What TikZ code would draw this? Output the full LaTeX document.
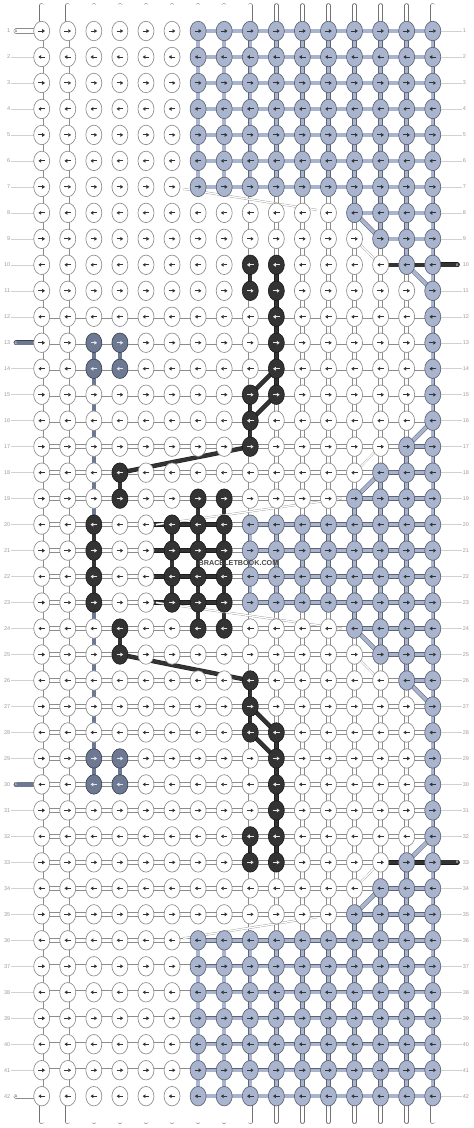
\documentclass[tikz,border=0pt]{standalone}
\usepackage{fontspec}
\setmainfont{Liberation Sans}
\usetikzlibrary{shapes.geometric,arrows.meta,calc}

\definecolor{wt}{HTML}{FFFFFF}
\definecolor{bl}{HTML}{A9B4CF}
\definecolor{dk}{HTML}{333333}
\definecolor{gy}{HTML}{6D7892}
\definecolor{lt}{HTML}{E6E6E6}
\definecolor{lbl}{HTML}{9C9C9C}

% colour of knot (row,col) -> \kc
\newcommand\getcol[2]{%
  \ifcsname cell@#1@#2\endcsname
    \edef\kc{\csname cell@#1@#2\endcsname}%
  \else
    \ifnum#2<\csname bs@#1\endcsname\relax\def\kc{wt}\else\def\kc{bl}\fi
  \fi}
\def\wtname{wt}
\def\blname{bl}

\tikzset{every picture/.style={line width=0.75pt}}
\tikzset{
  knot/.style={ellipse, fill=#1, draw=#1!55!black, line width=0.65pt,
    minimum width=16pt, minimum height=19.5pt, inner sep=0pt},
  link/.style={draw=#1!55!black, line width=0.5pt, double=#1, double distance=3.4pt},
  bar/.style={draw=#1!55!black, line width=0.5pt, double=#1, double distance=4.2pt, line cap=round},
  band/.style={draw=black!45, line width=0.3pt, double=white, double distance=1.4pt},
  stub/.style={draw=black!55, line width=0.5pt, double=white, double distance=3.6pt, line cap=round},
  guide/.style={draw=black!18, line width=0.5pt},
  rowno/.style={font=\fontsize{5.5}{6}\selectfont, text=lbl, inner sep=0.5pt},
  tag/.style={font=\fontsize{3.6}{4}\selectfont, inner sep=0pt, text=#1},
  arr/.style={-{Triangle[length=2.8pt,width=3.6pt]}, line width=0.95pt, draw=#1},
}

\begin{document}
\begin{tikzpicture}[x=1pt,y=1pt,yscale=-1]
\useasboundingbox (0,0) rectangle (474,1128);

% pattern data: first blue column of each row, dark and grey knots
\foreach \rr/\bb in {1/7,2/7,3/7,4/7,5/7,6/7,7/7,8/13,9/14,10/15,11/16,12/16,13/16,14/16,
  15/16,16/16,17/15,18/14,19/13,20/9,21/9,22/9,23/9,24/13,25/14,26/15,27/16,28/16,29/16,
  30/16,31/16,32/16,33/15,34/14,35/13,36/7,37/7,38/7,39/7,40/7,41/7,42/7}
  {\expandafter\xdef\csname bs@\rr\endcsname{\bb}}
\foreach \rr/\cc in {10/9,10/10,11/9,11/10,12/10,13/10,14/10,15/9,15/10,16/9,17/9,18/4,
  19/4,19/7,19/8,20/3,20/6,20/7,20/8,21/3,21/6,21/7,21/8,22/3,22/6,22/7,22/8,23/3,23/6,
  23/7,23/8,24/4,24/7,24/8,25/4,26/9,27/9,28/9,28/10,29/10,30/10,31/10,32/9,32/10,33/9,33/10}
  {\expandafter\gdef\csname cell@\rr@\cc\endcsname{dk}}
\foreach \rr/\cc in {13/3,13/4,14/3,14/4,29/3,29/4,30/3,30/4}
  {\expandafter\gdef\csname cell@\rr@\cc\endcsname{gy}}

% grid points
\foreach \rr in {1,...,42}
  \foreach \cc in {1,...,16}
    \coordinate (p\rr-\cc) at ({41.7+26.07*(\cc-1)},{31+25.98*(\rr-1)});

% row numbers
\foreach \rr in {1,...,42}{
  \node[rowno, anchor=east] (L\rr) at (11,{31+25.98*(\rr-1)}) {\rr};
  \node[rowno, anchor=west] (R\rr) at (462,{31+25.98*(\rr-1)}) {\rr};
  \ifnum\rr=1 \else\ifnum\rr=13 \else\ifnum\rr=30 \else\ifnum\rr=42 \else
    \draw[guide] (L\rr.east) -- (p\rr-1);
  \fi\fi\fi\fi
  \ifnum\rr=10 \else\ifnum\rr=33 \else
    \draw[guide] (p\rr-16) -- (R\rr.west);
  \fi\fi
}

% string ends
\foreach \cc in {1,...,16}{
  \draw[stub] ($(p1-\cc)+(0,-25.5)$) -- (p1-\cc);
  \draw[stub] (p42-\cc) -- ($(p42-\cc)+(0,25.5)$);
}
\coordinate (a1) at ($(p1-1)+(-25.5,0)$);
\coordinate (a42) at ($(p42-1)+(-25.5,0)$);
\coordinate (c13) at ($(p13-1)+(-25.5,0)$);
\coordinate (c30) at ($(p30-1)+(-25.5,0)$);
\coordinate (b10) at ($(p10-16)+(24.5,0)$);
\coordinate (b33) at ($(p33-16)+(24.5,0)$);
\draw[bar=wt] (a1) -- (p1-1);
\draw[bar=wt] (a42) -- (p42-1);
\draw[bar=gy] (c13) -- (p13-1);
\draw[bar=gy] (c30) -- (p30-1);
\draw[bar=dk] (p10-16) -- (b10);
\draw[bar=dk] (p33-16) -- (b33);

% horizontal links
\foreach \rr in {1,...,42}{
  \foreach \cc [evaluate=\cc as \nn using int(\cc+1)] in {1,...,15}{
    \getcol{\rr}{\cc}\let\ka\kc
    \getcol{\rr}{\nn}\let\kb\kc
    \def\lc{wt}%
    \ifx\ka\kb\ifx\ka\blname\def\lc{bl}\fi\fi
    \ifnum\rr>19 \ifnum\rr<24 \ifnum\cc>4 \ifnum\cc<8 \def\lc{dk}\fi\fi\fi\fi
    \ifnum\rr=10 \ifnum\cc>13 \def\lc{dk}\fi\fi
    \ifnum\rr=33 \ifnum\cc>13 \def\lc{dk}\fi\fi
    \draw[link=\lc] (p\rr-\cc) -- (p\rr-\nn);
  }}

% vertical links
\foreach \rr [evaluate=\rr as \nn using int(\rr+1)] in {1,...,41}{
  \foreach \cc in {1,...,16}{
    \getcol{\rr}{\cc}\let\ka\kc
    \getcol{\nn}{\cc}\let\kb\kc
    \def\lc{wt}%
    \ifx\ka\kb\let\lc\ka\fi
    \ifnum\cc=3 \ifnum\rr>12 \ifnum\rr<30 \ifx\lc\wtname\def\lc{gy}\fi\fi\fi\fi
    \draw[link=\lc] (p\rr-\cc) -- (p\nn-\cc);
  }}

% slanted links
\foreach \a/\b in {8-13/9-14,10-15/11-16,16-16/17-15,18-14/19-13,
  24-13/25-14,26-15/27-16,32-16/33-15,34-14/35-13}
  \draw[link=bl] (p\a) -- (p\b);
\foreach \a/\b in {14-10/15-9,15-10/16-9,27-9/28-10,28-9/29-10,17-9/18-4,25-4/26-9}
  \draw[link=dk] (p\a) -- (p\b);

% strings passing behind
\draw[band] ($(p7-6)+(11,2)$) -- ($(p8-12)+(-12,-3)$);
\draw[band] ($(p36-6)+(11,-2)$) -- ($(p35-12)+(-12,3)$);
\draw[band] ($(p9-13)+(4,4)$) -- ($(p10-14)+(-5.5,-5)$);
\draw[band] ($(p25-13)+(4,4)$) -- ($(p26-14)+(-5.5,-5)$);
\draw[band] ($(p17-14)+(-5.5,5)$) -- ($(p18-13)+(4,-4)$);
\draw[band] ($(p33-14)+(-5.5,5)$) -- ($(p34-13)+(4,-4)$);
\draw[band] ($(p20-5)+(10,0)$) -- ($(p19-12)+(13,0)$);
\draw[band] ($(p23-5)+(10,0)$) -- ($(p24-12)+(13,0)$);

% knots
\foreach \rr in {1,...,42}
  \foreach \cc in {1,...,16}{
    \getcol{\rr}{\cc}
    \node[knot=\kc] (k\rr-\cc) at (p\rr-\cc) {};
  }

% knot arrows
\foreach \rr in {1,...,42}
  \foreach \cc in {1,...,16}{
    \getcol{\rr}{\cc}
    \def\ac{dk}%
    \ifx\kc\wtname\else\ifx\kc\blname\else\def\ac{lt}\fi\fi
    \ifodd\rr\relax
      \draw[arr=\ac] ([xshift=-3.3pt]k\rr-\cc.center) -- ([xshift=3.3pt]k\rr-\cc.center);
    \else
      \draw[arr=\ac] ([xshift=3.3pt]k\rr-\cc.center) -- ([xshift=-3.3pt]k\rr-\cc.center);
    \fi
  }

% string letters
\node[tag=dk] (tA1) at (a1) {A};
\node[tag=dk] (tA42) at (a42) {A};
\node[tag=white] (tC13) at (c13) {C};
\node[tag=white] (tC30) at (c30) {C};
\node[tag=white] (tB10) at (b10) {B};
\node[tag=white] (tB33) at (b33) {B};

\node[font=\bfseries\fontsize{7.2}{8}\selectfont, text=black!72, inner sep=0pt] (wm) at (238.5,563.5) {BRACELETBOOK.COM};
\end{tikzpicture}
\end{document}
